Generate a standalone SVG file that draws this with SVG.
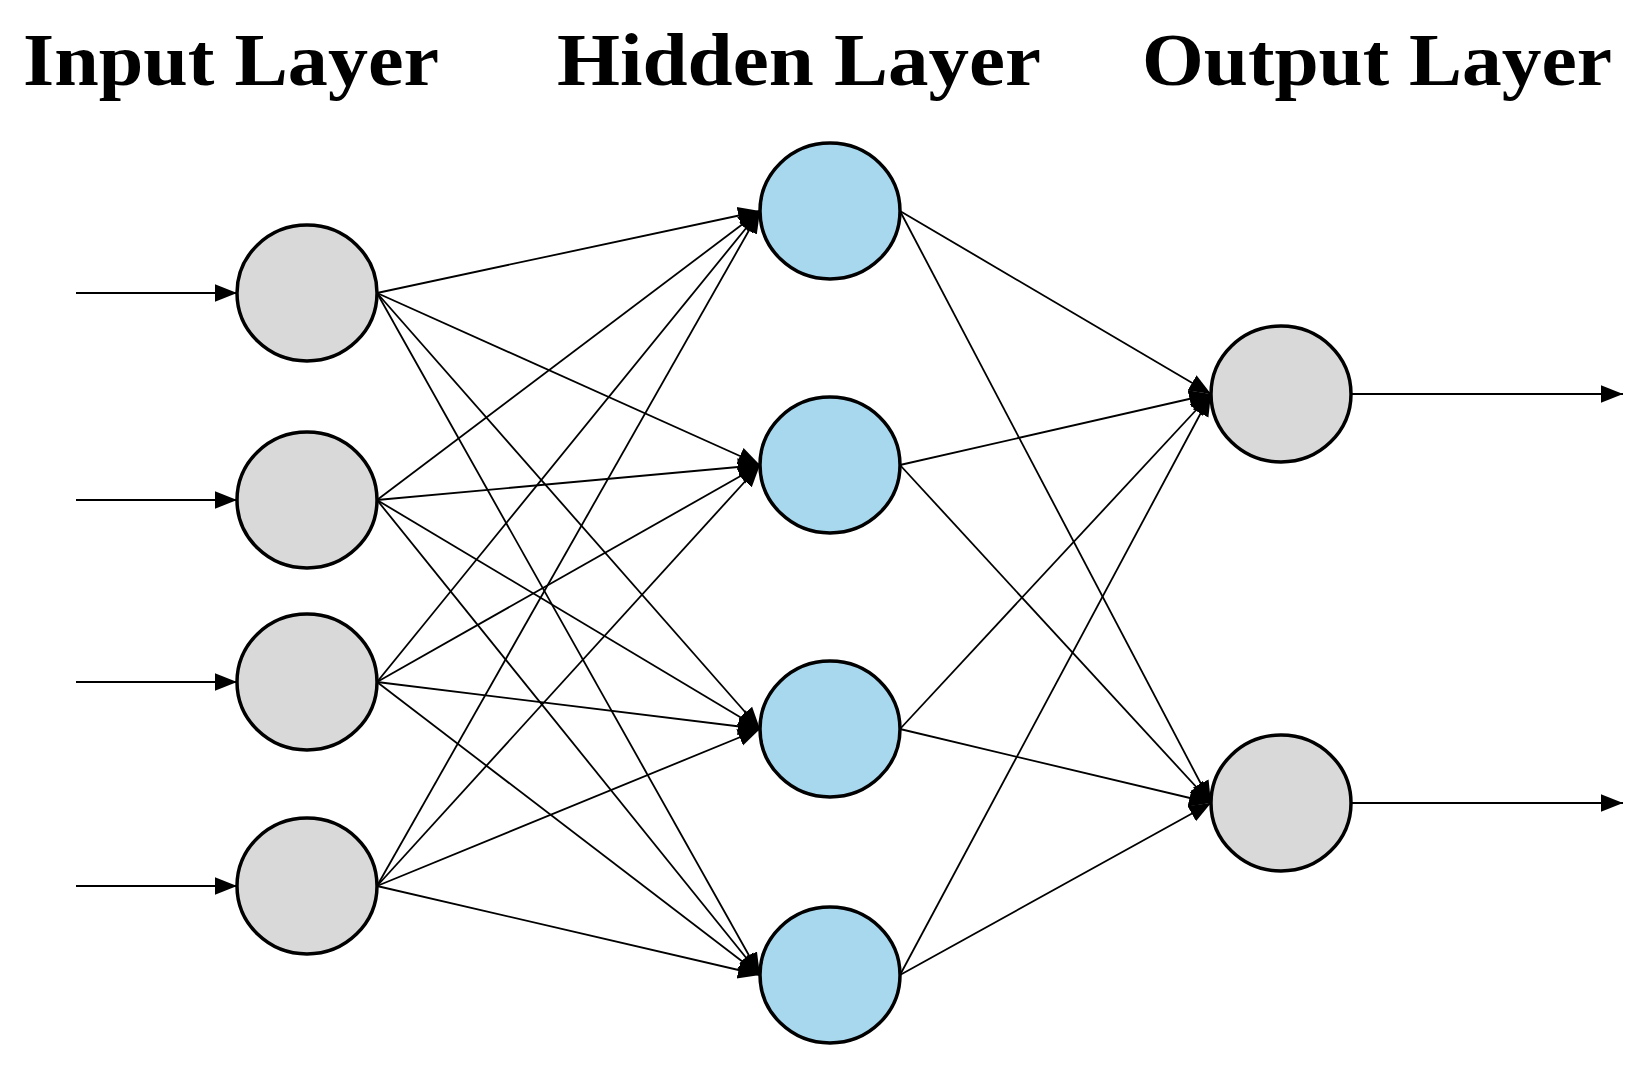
<svg xmlns="http://www.w3.org/2000/svg" width="1650" height="1065" viewBox="0 0 1650 1065">
<style>
.t{font-family:"Liberation Serif","Times New Roman",serif;font-weight:bold;font-size:74px;fill:#000}
.n{stroke:#000;stroke-width:3.5}
.g{fill:#d9d9d9}.b{fill:#a8d8ee}
.e{stroke:#000;stroke-width:2;fill:none;marker-end:url(#a)}
</style>
<defs><marker id="a" viewBox="0 0 10 10" refX="10" refY="5" markerWidth="9" markerHeight="9" markerUnits="userSpaceOnUse" orient="auto"><path d="M0,0L10,5L0,10z" fill="#000"/></marker>
<marker id="a2" viewBox="0 0 10 10" refX="10" refY="5" markerWidth="22" markerHeight="22" markerUnits="userSpaceOnUse" orient="auto"><path d="M0,1L10,5L0,9z" fill="#000"/></marker></defs>
<rect width="1650" height="1065" fill="#fff"/>
<text class="t" x="23" y="85" textLength="416" lengthAdjust="spacingAndGlyphs">Input Layer</text>
<text class="t" x="557" y="85" textLength="484" lengthAdjust="spacingAndGlyphs">Hidden Layer</text>
<text class="t" x="1142" y="85" textLength="470" lengthAdjust="spacingAndGlyphs">Output Layer</text>
<g id="connectors" stroke="#000" stroke-width="2" fill="none">
<g marker-end="url(#a2)">
<path d="M76,293H237"/><path d="M76,500H237"/><path d="M76,682H237"/><path d="M76,886H237"/>
<path d="M1351,394H1623"/><path d="M1351,803H1623"/>
</g>
<g marker-end="url(#a2)" stroke-width="1.8">
<path d="M377,293L760,211"/><path d="M377,293L760,465"/><path d="M377,293L760,729"/><path d="M377,293L760,975"/>
<path d="M377,500L760,211"/><path d="M377,500L760,465"/><path d="M377,500L760,729"/><path d="M377,500L760,975"/>
<path d="M377,682L760,211"/><path d="M377,682L760,465"/><path d="M377,682L760,729"/><path d="M377,682L760,975"/>
<path d="M377,886L760,211"/><path d="M377,886L760,465"/><path d="M377,886L760,729"/><path d="M377,886L760,975"/>
<path d="M900,211L1211,394"/><path d="M900,211L1211,803"/>
<path d="M900,465L1211,394"/><path d="M900,465L1211,803"/>
<path d="M900,729L1211,394"/><path d="M900,729L1211,803"/>
<path d="M900,975L1211,394"/><path d="M900,975L1211,803"/>
</g>
</g>
<g id="in1"><ellipse class="n g" cx="307" cy="293" rx="70" ry="68"/></g>
<g id="in2"><ellipse class="n g" cx="307" cy="500" rx="70" ry="68"/></g>
<g id="in3"><ellipse class="n g" cx="307" cy="682" rx="70" ry="68"/></g>
<g id="in4"><ellipse class="n g" cx="307" cy="886" rx="70" ry="68"/></g>
<g id="h1"><ellipse class="n b" cx="830" cy="211" rx="70" ry="68"/></g>
<g id="h2"><ellipse class="n b" cx="830" cy="465" rx="70" ry="68"/></g>
<g id="h3"><ellipse class="n b" cx="830" cy="729" rx="70" ry="68"/></g>
<g id="h4"><ellipse class="n b" cx="830" cy="975" rx="70" ry="68"/></g>
<g id="o1"><ellipse class="n g" cx="1281" cy="394" rx="70" ry="68"/></g>
<g id="o2"><ellipse class="n g" cx="1281" cy="803" rx="70" ry="68"/></g>
</svg>
